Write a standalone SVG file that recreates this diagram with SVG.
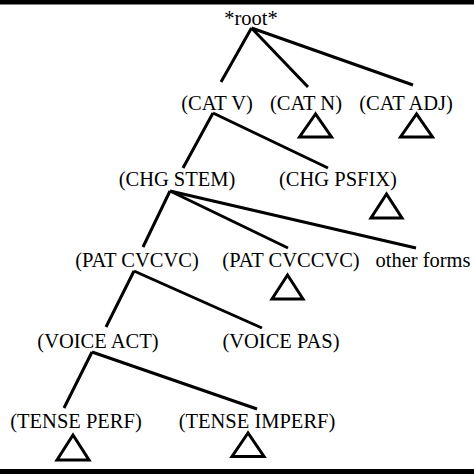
<svg xmlns="http://www.w3.org/2000/svg" width="474" height="474" viewBox="0 0 474 474">
<style>
text{font-family:"Liberation Serif","Times New Roman",serif;font-size:20.5px;fill:#000;text-anchor:middle}
.e{stroke:#000;stroke-width:3;fill:none;stroke-linecap:butt}
.tri{stroke:#000;stroke-width:3;fill:none;stroke-linejoin:miter}
</style>
<rect x="0" y="0" width="474" height="474" fill="#fff"/>
<rect x="0" y="0" width="474" height="4.5" fill="#000"/>
<rect x="0" y="469" width="474" height="5" fill="#000"/>
<g id="connectors">
<path class="e" d="M251.5 28 L221 82 M251.5 28 L308 87 M251.5 28 L413 85"/>
<path class="e" d="M213 113 L183 168 M213 113 L328 168"/>
<path class="e" d="M170 191 L143 247 M170 191 L288 248 M170 191 L416 248"/>
<path class="e" d="M134 271 L106 327 M134 271 L262 328"/>
<path class="e" d="M92 352 L64 408 M92 352 L257 409"/>
</g>
<g id="root"><text x="251" y="25">*root*</text></g>
<g id="cat-v"><text x="217" y="110">(CAT V)</text></g>
<g id="cat-n"><text x="306" y="110">(CAT N)</text><polygon class="tri" points="315.5,114 299.5,137 331.5,137"/></g>
<g id="cat-adj"><text x="406" y="110">(CAT ADJ)</text><polygon class="tri" points="416.5,114 400.5,137 432.5,137"/></g>
<g id="chg-stem"><text x="177" y="186">(CHG STEM)</text></g>
<g id="chg-psfix"><text x="338" y="186">(CHG PSFIX)</text><polygon class="tri" points="386.5,194 371,218 402,218"/></g>
<g id="pat-cvcvc"><text x="137" y="267">(PAT CVCVC)</text></g>
<g id="pat-cvccvc"><text x="291" y="267">(PAT CVCCVC)</text><polygon class="tri" points="287.5,275 272,299 303,299"/></g>
<g id="other-forms"><text x="423" y="267">other forms</text></g>
<g id="voice-act"><text x="98" y="348">(VOICE ACT)</text></g>
<g id="voice-pas"><text x="281" y="348">(VOICE PAS)</text></g>
<g id="tense-perf"><text x="76" y="428">(TENSE PERF)</text><polygon class="tri" points="73,435 57,460 89,460"/></g>
<g id="tense-imperf"><text x="257" y="428">(TENSE IMPERF)</text><polygon class="tri" points="248,433 232,456.5 264,456.5"/></g>
</svg>
